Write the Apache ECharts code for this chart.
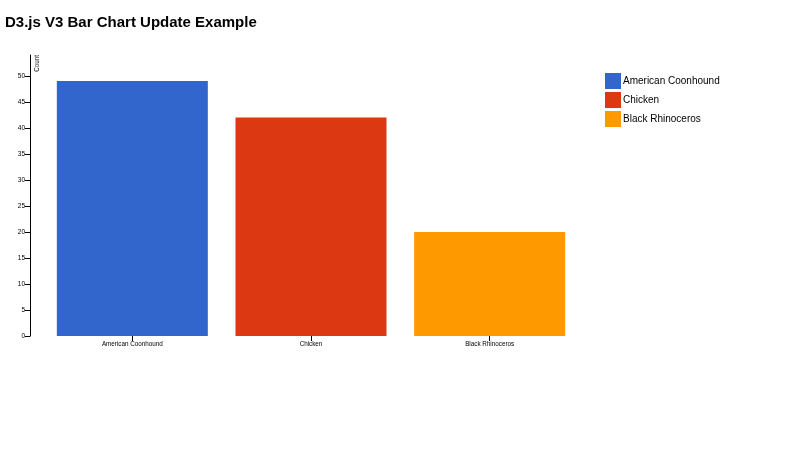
<!DOCTYPE html>
<html>
<head>
<meta charset="utf-8">
<title>D3.js V3 Bar Chart Update Example</title>
<script src="https://cdn.jsdelivr.net/npm/echarts@6/dist/echarts.min.js"></script>
<style>
  html, body { margin: 0; padding: 0; background: #fff; }
  #chart { width: 800px; height: 450px; }
</style>
</head>
<body>
<div id="chart"></div>
<script>
// data
var categories = ['American Coonhound', 'Chicken', 'Black Rhinoceros'];
var counts = [49, 42, 20];
var colors = ['#3366cc', '#dc3912', '#ff9900'];
var yMax = 54;

var chart = echarts.init(document.getElementById('chart'));

// one series per animal so the legend lists each of them
var series = categories.map(function (name, i) {
  var data = categories.map(function (c, j) {
    return j === i ? counts[i] : '-';
  });
  return {
    name: name,
    type: 'bar',
    data: data,
    barWidth: 151,
    barGap: '-100%',
    itemStyle: { color: colors[i] },
    emphasis: { disabled: true }
  };
});

chart.setOption({
  animation: false,
  textStyle: { fontFamily: 'Liberation Sans, Arial, sans-serif' },
  title: {
    text: 'D3.js V3 Bar Chart Update Example',
    left: 0,
    top: 10,
    textStyle: { fontSize: 15, fontWeight: 'bold', color: '#000' }
  },
  legend: {
    orient: 'vertical',
    left: 600,
    top: 68,
    itemWidth: 16,
    itemHeight: 16,
    itemGap: 3,
    icon: 'rect',
    data: categories,
    textStyle: { fontSize: 10, color: '#000', padding: [1, 0, 0, -3] }
  },
  grid: { left: 43, right: 221, top: 55, bottom: 114 },
  xAxis: {
    type: 'category',
    data: categories,
    axisLine: { show: false },
    axisTick: { show: true, alignWithLabel: true, length: 5, lineStyle: { color: '#000' } },
    axisLabel: { fontSize: 6.3, color: '#000', margin: 5 }
  },
  yAxis: {
    type: 'value',
    min: 0,
    max: yMax,
    interval: 5,
    offset: 13,
    splitLine: { show: false },
    axisLine: { show: true, lineStyle: { color: '#000' } },
    axisTick: { show: true, length: 5, lineStyle: { color: '#000' } },
    axisLabel: { fontSize: 6.5, color: '#000', margin: 5, showMaxLabel: false }
  },
  graphic: [{
    type: 'text',
    x: 37,
    y: 55,
    rotation: Math.PI / 2,
    style: {
      text: 'Count',
      fontSize: 6.3,
      fill: '#000',
      align: 'right',
      verticalAlign: 'middle',
      fontFamily: 'Liberation Sans, Arial, sans-serif'
    }
  }],
  series: series
});
</script>
</body>
</html>
